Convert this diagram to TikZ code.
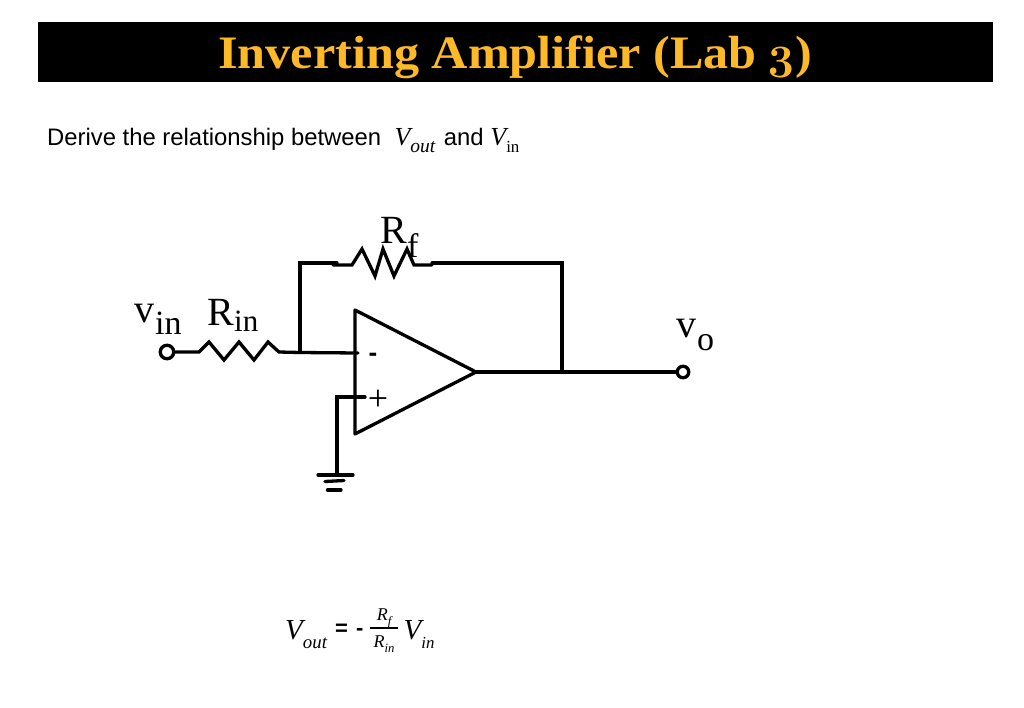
\documentclass[tikz,border=0pt]{standalone}
\usepackage{graphicx}
\usepackage{fontspec}
\setmainfont{Liberation Serif}
\newfontfamily\sansf{Liberation Sans}
\newfontfamily\titlef{Liberation Serif}[FakeStretch=1.08]
\newfontfamily\oldnum{Latin Modern Roman}[Numbers=OldStyle]
\definecolor{titlegold}{HTML}{FDB927}
\newcommand{\fs}[1]{\fontsize{#1}{#1}\selectfont}
% italic symbol with a lowered index, scale of the index as first argument
\newcommand{\varsub}[3]{{\rmfamily\itshape #2\raisebox{-.3em}{\scalebox{#1}{#3}}}}
\begin{document}
\begin{tikzpicture}[x=1pt,y=-1pt,
    wire/.style={line width=3.3pt,line join=miter,line cap=round},
    term/.style={circle,draw,line width=3.3pt,minimum size=13.5pt,inner sep=0pt,fill=white},
    lab/.style={anchor=base west,inner sep=0pt,text=black},
    big/.style={lab,font=\fs{40}},
    subs/.style={lab,font=\fs{34}},
    eq/.style={anchor=base west,inner sep=0pt,font=\fs{29}}]
  \useasboundingbox (0,0) rectangle (1024,707);
  % title bar
  \node[fill=black,minimum width=955pt,minimum height=60pt,inner sep=0pt,anchor=north west] (bar) at (38,22) {};
  \node[anchor=base,inner sep=0pt,text=titlegold,font=\fs{46.5}\titlef\bfseries] (title) at (515.5,68) {Inverting Amplifier (Lab\hspace{-3pt} {\oldnum 3})};
  % question
  \node[anchor=base west,inner sep=0pt,font=\fs{23.85}\sansf] (ask) at (47,145) {Derive the relationship between\ \ {\fs{26}\varsub{.75}{V}{out}}\hspace{2pt} and {\fs{26}\varsub{.65}{V}{\upshape in}}};
  % terminals
  \node[term] (vin) at (167,352) {};
  \node[term,minimum size=11.5pt] (vo) at (683,372) {};
  % named points of the circuit
  \coordinate (ina) at (199,352);
  \coordinate (inb) at (279,352);
  \coordinate (jn) at (300,352.5);
  \coordinate (fbl) at (300,263);
  \coordinate (fa) at (333,265);
  \coordinate (fb) at (432,265);
  \coordinate (fr) at (562,263);
  \coordinate (out) at (562,372);
  \coordinate (ap) at (355,310);
  \coordinate (am) at (355,434);
  \coordinate (tip) at (476,372);
  \coordinate (nin) at (358,353);
  \coordinate (pin) at (365,397);
  \coordinate (pc) at (337,397);
  \coordinate (gnd) at (337,475);
  % input and Rin
  \draw[wire] (vin) -- (ina) -- (209,342) -- (224,360) -- (239,342) -- (254,360) -- (268,342) -- (inb) -- (jn) -- (nin);
  % feedback with Rf
  \draw[wire] (jn) -- (fbl) -- (337,263);
  \draw[wire] (fa) -- (352,265) -- (362,249) -- (375,276) -- (383,249) -- (394,276) -- (407,249) -- (414,265) -- (fb);
  \draw[wire] (432,263) -- (fr) -- (out);
  % op amp
  \draw[wire,line join=round] (ap) -- (tip) -- (am) -- cycle;
  \draw[wire] (tip) -- (vo);
  \draw[wire] (pin) -- (pc) -- (gnd);
  % ground
  \draw[wire] (318,475) -- (353,475);
  \draw[wire] (325,481.5) -- (344,480.5);
  \draw[wire] (327.5,490) -- (341,490);
  % op amp inputs
  \node[anchor=base,inner sep=0pt,font=\fs{26}\sansf\bfseries] (minus) at (373,361) {-};
  \node[anchor=base,inner sep=0pt,font=\fs{36}] (plus) at (378,410.5) {+};
  % labels
  \node[big] (lv) at (134,322) {v};
  \node[subs] (lvi) at (155,334) {in};
  \node[big] (lr) at (207,325) {R};
  \node[subs,font=\fs{31}] (lri) at (234,331) {in};
  \node[big] (lf) at (380,243) {R};
  \node[subs] (lfs) at (407,257) {f};
  \node[big] (lo) at (676,337) {v};
  \node[subs] (los) at (697,350) {o};
  % formula
  \node[eq] (form) at (285,639.5) {\varsub{.65}{V}{out}};
  \node[eq,font=\fs{22}\sansf\bfseries] (eqs) at (335,635) {=};
  \node[eq,font=\fs{22}\sansf\bfseries] (dash) at (356,635) {-};
  \node[anchor=base,inner sep=0pt,font=\fs{18}] (num) at (384,620) {\varsub{.7}{R}{f}};
  \node[anchor=base,inner sep=0pt,font=\fs{18}] (den) at (384,647) {\varsub{.7}{R}{in}};
  \draw[line width=1.2pt] (370,628) -- (398,628);
  \node[eq] (vi2) at (403.5,639.5) {\varsub{.58}{V}{in}};
\end{tikzpicture}
\end{document}
